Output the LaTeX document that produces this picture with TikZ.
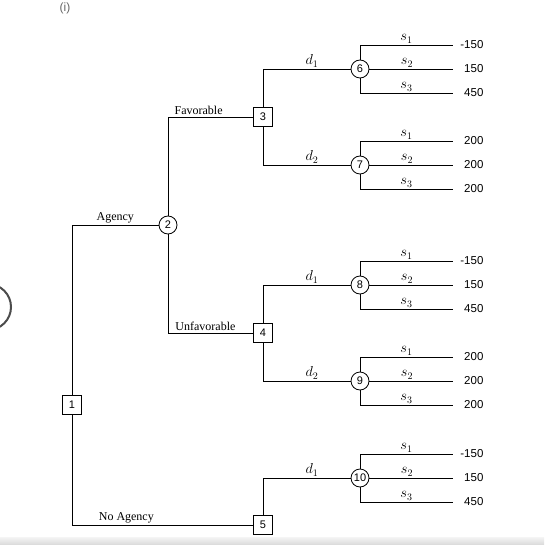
\documentclass[tikz,border=0pt]{standalone}
\usepackage{fontspec}
\setmainfont{Liberation Serif}
\newfontfamily\numfont{Liberation Sans}
\usetikzlibrary{positioning}

\begin{document}
\begin{tikzpicture}[
    x=1pt, y=-1pt, line width=0.8pt,
    decision/.style={
        rectangle, draw, fill=white, minimum size=19pt,
        inner sep=0pt, font=\fontsize{11}{12}\numfont
    },
    chance/.style={
        circle, draw, fill=white, minimum size=18pt,
        inner sep=0pt, font=\fontsize{11}{12}\numfont
    },
    payoff/.style={
        anchor=west, inner sep=0pt, text width=30pt,
        align=right, font=\fontsize{11.5}{12}\numfont
    },
    lbl/.style={above, inner sep=2pt, font=\fontsize{12}{13}\selectfont},
    mlbl/.style={above, inner sep=1.5pt, font=\fontsize{14}{15}\selectfont}
]
\useasboundingbox (0,0) rectangle (544,545);
\clip (0,0) rectangle (544,545);

% page artefacts
\shade[top color=gray!8, bottom color=gray!30] (0,537) rectangle (544,545);
\node[font=\fontsize{12}{13}\numfont, text=gray!80!black] (tag) at (65,8) {(i)};
\draw[line width=2pt, gray!60!black] (-12,307) circle (23);

% decision and chance nodes
\node[decision] (n1) at (72,405) {1};
\node[chance]   (n2) at (168,225) {2};
\node[decision] (n3) at (263,117) {3};
\node[decision] (n4) at (263,333) {4};
\node[decision] (n5) at (263,525) {5};
\node[chance]   (n6) at (360,69)  {6};
\node[chance]   (n7) at (360,165) {7};
\node[chance]   (n8) at (360,285) {8};
\node[chance]   (n9) at (360,381) {9};
\node[chance]   (n10) at (360,478) {10};

% main branches
\draw (n1) |- node[lbl, pos=0.75] {Agency} (n2);
\draw (n1) |- node[lbl, pos=0.65] {No Agency} (n5);
\draw (n2) |- node[lbl, pos=0.68] {Favorable} (n3);
\draw (n2) |- node[lbl, pos=0.72] {Unfavorable} (n4);
\foreach \a/\b/\d in {n3/n6/1, n3/n7/2, n4/n8/1, n4/n9/2, n5/n10/1}
  \draw (\a) |- node[mlbl, pos=0.78] {$d_{\d}$} (\b);

% outcomes
\foreach \c/\y/\pa/\pb/\pc in {6/69/-150/150/450, 7/165/200/200/200,
                               8/285/-150/150/450, 9/381/200/200/200,
                               10/478/-150/150/450}{
  \node[payoff] (v\c-1) at (453,{\y-24}) {\pa};
  \node[payoff] (v\c-2) at (453,\y)      {\pb};
  \node[payoff] (v\c-3) at (453,{\y+24}) {\pc};
  \draw (n\c) |- node[mlbl, pos=0.75] {$s_1$} (v\c-1);
  \draw (n\c) -- node[mlbl, pos=0.45] {$s_2$} (v\c-2);
  \draw (n\c) |- node[mlbl, pos=0.75] {$s_3$} (v\c-3);
}
\end{tikzpicture}
\end{document}
